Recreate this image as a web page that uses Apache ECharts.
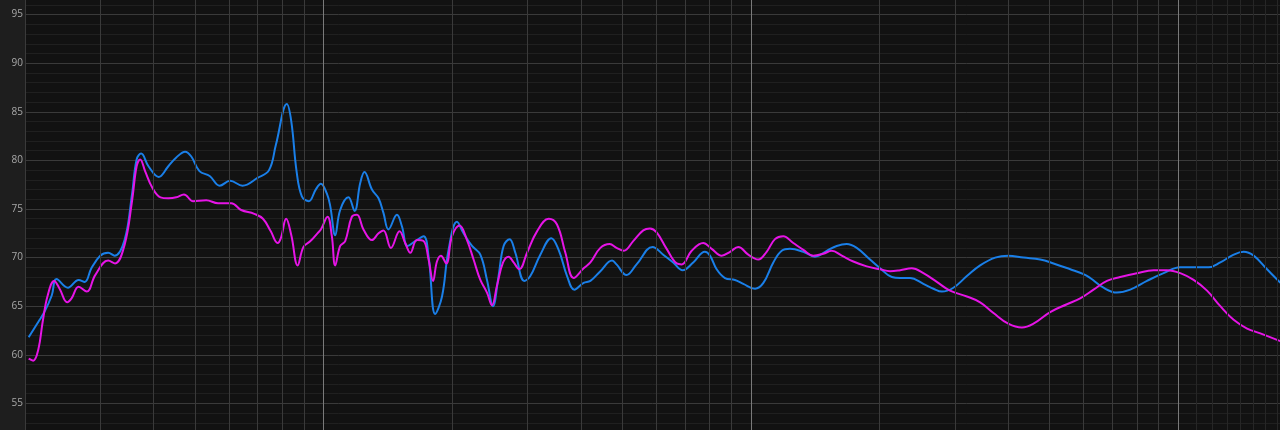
<!DOCTYPE html>
<html>
<head>
<meta charset="utf-8">
<script src="https://cdn.jsdelivr.net/npm/echarts@6/dist/echarts.min.js"></script>
<style>
  html, body { margin: 0; padding: 0; background: #1e1e1e; overflow: hidden; }
  /* chart spans 50..100 dB, shifted so the window shows roughly 52..96.5 */
  #main { position: absolute; left: 0; top: -34px; width: 1280px; height: 486px; }
</style>
</head>
<body>
<div id="main"></div>
<script>
// frequency (Hz) / level (dB)
var blueFreq = [20.4, 21.5, 22.2, 23.1, 23.7, 25.2, 26.7, 27.6, 28.6, 30.0, 31.3, 32.4, 34.2, 35.6, 36.5, 37.4,
    38.9, 41.1, 43.3, 45.2, 47.4, 49.0, 51.2, 54.1, 57.1, 60.4, 64.6, 70.0, 74.5, 77.3, 82.0, 84.0,
    86.4, 88.9, 92.3, 95.8, 98.5, 101.7, 103.6, 106.4, 109.3, 114.3, 118.1, 121.8, 124.6, 129.7, 134.4,
    138.0, 141.8, 148.4, 152.5, 157.1, 163.8, 171.3, 176.0, 182.4, 189.2, 196.0, 205.1, 212.5, 222.4,
    232.6, 241.1, 249.0, 256.6, 263.7, 272.4, 280.9, 294.8, 304.5, 321.4, 341.0, 354.7, 371.2, 386.1,
    405.9, 420.9, 444.2, 473.1, 484.6, 511.4, 539.8, 588.6, 623.2, 657.7, 691.8, 732.6, 780.0, 801.7,
    831.1, 869.1, 917.3, 959.3, 1022, 1069, 1128, 1180, 1234, 1326, 1412, 1504, 1587, 1675, 1768, 1899,
    2005, 2136, 2234, 2357, 2532, 2673, 2797, 2977, 3201, 3438, 3728, 4000, 4342, 4751, 5105, 5587,
    6000, 6221, 6684, 7184, 7720, 8447, 9239, 10108, 10860, 11776, 12543, 13476, 14223, 15012, 16135, 17337];
var blueDb = [61.8, 63.4, 64.4, 66.1, 67.8, 66.9, 67.7, 67.5, 68.9, 70.2, 70.5, 70.2, 71.8, 76.5, 80.1, 80.7,
    79.4, 78.3, 79.4, 80.3, 80.9, 80.4, 78.9, 78.4, 77.4, 77.9, 77.4, 78.2, 79.0, 81.6, 85.8, 84.0,
    78.9, 76.3, 75.8, 77.0, 77.6, 76.6, 75.3, 72.3, 74.9, 76.2, 74.8, 77.7, 78.8, 77.0, 76.1,
    74.6, 72.9, 74.4, 73.2, 71.2, 71.7, 72.2, 70.1, 64.2, 66.0, 70.8, 73.7, 72.5, 71.2,
    70.3, 67.7, 65.0, 68.1, 71.2, 71.9, 70.5, 67.6, 68.1, 70.3, 72.0, 70.8, 68.1, 66.7,
    67.4, 67.6, 68.6, 69.7, 69.3, 68.2, 69.3, 71.1, 70.3, 69.5, 68.7, 69.5, 70.6, 70.2,
    68.8, 67.9, 67.7, 67.3, 66.8, 67.4, 69.5, 70.7, 70.9, 70.6, 70.1, 70.7, 71.2, 71.4, 71.0, 69.8,
    68.9, 68.0, 67.9, 67.9, 67.3, 66.8, 66.5, 66.9, 68.1, 69.2, 70.0, 70.2, 70.0, 69.8, 69.4, 68.8,
    68.3, 67.9, 66.9, 66.4, 66.7, 67.6, 68.4, 69.0, 69.0, 69.0, 69.5, 70.3, 70.6, 70.2, 68.8, 67.4];

var pinkFreq = [20.4, 20.9, 21.5, 22.0, 22.6, 23.4, 24.1, 25.1, 25.7, 26.7, 27.9, 29.2, 31.3, 32.5, 34.2, 35.6,
    36.5, 37.2, 38.2, 39.7, 41.5, 43.3, 45.2, 47.1, 49.5, 53.1, 56.6, 60.8, 64.1, 68.8, 72.1, 75.2,
    78.0, 79.4, 81.7, 84.0, 86.9, 89.7, 93.1, 96.7, 98.5, 102.1, 104.5, 106.4, 109.3, 112.3, 116.4,
    119.6, 123.9, 129.7, 134.4, 138.0, 143.7, 150.5, 155.2, 159.5, 165.3, 171.3, 176.0, 180.3, 184.1,
    188.1, 193.6, 199.7, 208.0, 216.5, 224.3, 232.6, 241.1, 247.7, 254.4, 262.9, 270.9, 278.3, 287.0,
    299.2, 315.7, 336.2, 351.6, 367.8, 384.6, 405.9, 420.9, 444.2, 467.0, 484.6, 504.1, 530.1, 559.6,
    580.2, 601.5, 634.9, 669.9, 688.2, 726.4, 773.0, 809.1, 853.9, 893.4, 933.8, 985.6, 1040, 1088,
    1138, 1190, 1256, 1326, 1399, 1477, 1545, 1631, 1736, 1866, 2005, 2116, 2234, 2379, 2532, 2722,
    2924, 3201, 3438, 3694, 4000, 4305, 4583, 5014, 5488, 5894, 6334, 6808, 7314, 8004, 8756, 9409,
    10108, 10860, 11675, 12543, 13476, 14488, 15560, 17337];
var pinkDb = [59.6, 59.4, 60.6, 63.4, 66.1, 67.6, 66.8, 65.4, 65.8, 67.0, 66.5, 68.2, 69.7, 69.4, 71.3, 75.8,
    79.4, 80.1, 78.9, 77.2, 76.2, 76.1, 76.2, 76.5, 75.8, 75.9, 75.6, 75.6, 74.9, 74.5, 74.0, 72.7,
    71.5, 72.0, 74.0, 72.3, 69.2, 71.1, 71.7, 72.5, 72.9, 74.2, 72.2, 69.2, 71.2, 71.7, 74.2,
    74.4, 72.9, 71.8, 72.5, 72.8, 71.0, 72.7, 71.5, 70.5, 71.8, 71.7, 69.8, 67.6, 69.6,
    70.2, 69.4, 72.2, 73.3, 71.8, 69.8, 67.7, 66.4, 65.1, 67.1, 69.5, 70.1, 69.5, 68.8,
    70.5, 72.7, 74.0, 73.4, 70.5, 67.9, 68.9, 69.5, 71.0, 71.4, 71.0, 70.7, 71.7, 72.8,
    73.0, 72.6, 70.9, 69.4, 69.3, 70.7, 71.5, 70.9, 70.2, 70.6, 71.1, 70.3, 69.8, 70.6,
    71.9, 72.2, 71.5, 70.8, 70.2, 70.4, 70.7, 70.2, 69.6, 69.1, 68.8, 68.6, 68.7, 68.9, 68.4, 67.5,
    66.6, 66.0, 65.4, 64.3, 63.2, 62.8, 63.2, 64.4, 65.2, 65.8, 66.7, 67.6, 68.0, 68.4, 68.7, 68.7,
    68.4, 67.7, 66.6, 65.0, 63.6, 62.7, 62.2, 61.4];

// vertical grid positions (Hz)
var decadeLines = [100, 1000, 10000];
var midLines = [20, 30, 40, 50, 60, 70, 80, 90, 200, 300, 400, 500, 600, 700, 800, 900,
    2000, 3000, 4000, 5000, 6000, 7000, 8000, 9000];
var fineLines = [11000, 12000, 13000, 14000, 15000, 16000, 17000];

var myChart = echarts.init(document.getElementById('main'));

function pairs(xs, ys) {
    return xs.map(function (x, i) { return [x, ys[i]]; });
}

function gridSeries(freqs, color) {
    return {
        type: 'line',
        data: [],
        silent: true,
        z: 1,
        markLine: {
            silent: true,
            symbol: ['none', 'none'],
            label: { show: false },
            animation: false,
            lineStyle: { color: color, width: 1, type: 'solid' },
            data: freqs.map(function (f) { return { xAxis: f }; })
        }
    };
}

var option = {
    backgroundColor: '#1e1e1e',
    animation: false,
    grid: {
        left: 25,
        right: 0,
        top: 0,
        bottom: 0,
        outerBoundsMode: 'none',
        containLabel: false,
        show: true,
        backgroundColor: '#121212',
        borderWidth: 0
    },
    xAxis: {
        type: 'log',
        logBase: 10,
        min: 20,
        max: 17300,
        axisLine: { show: false },
        axisTick: { show: false },
        axisLabel: { show: false },
        splitLine: { show: false }
    },
    yAxis: {
        type: 'value',
        min: 50,
        max: 100,
        interval: 5,
        axisLine: { show: false },
        axisTick: { show: false },
        axisLabel: {
            color: '#a8a8a8',
            fontSize: 10,
            fontFamily: 'Open Sans',
            margin: 2
        },
        splitLine: { show: true, lineStyle: { color: '#3a3a3a', width: 1 } },
        minorTick: { show: false, splitNumber: 5 },
        minorSplitLine: { show: true, lineStyle: { color: '#202020', width: 1 } }
    },
    series: [
        gridSeries(fineLines, '#262626'),
        gridSeries(midLines, '#3a3a3a'),
        gridSeries(decadeLines, '#7a7a7a'),
        {
            name: 'blue',
            type: 'line',
            z: 3,
            data: pairs(blueFreq, blueDb),
            smooth: 0.4,
            showSymbol: false,
            lineStyle: { color: '#1a7fe8', width: 2 }
        },
        {
            name: 'pink',
            type: 'line',
            z: 4,
            data: pairs(pinkFreq, pinkDb),
            smooth: 0.4,
            showSymbol: false,
            lineStyle: { color: '#e614e6', width: 2 }
        }
    ]
};

myChart.setOption(option);
</script>
</body>
</html>
